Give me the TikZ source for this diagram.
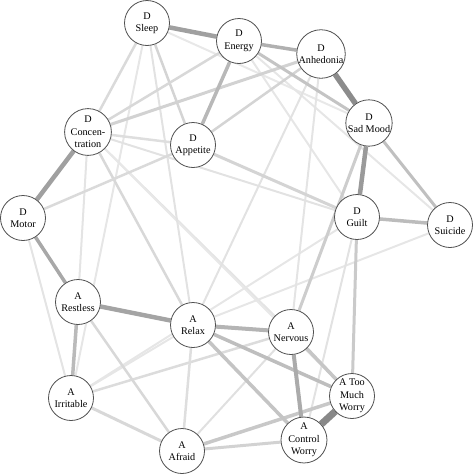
\documentclass[tikz,border=0pt]{standalone}
\usepackage{fontspec}
\setmainfont{Liberation Serif}
\usetikzlibrary{backgrounds}
\definecolor{nodeline}{HTML}{505050}
\tikzset{
  nd/.style={circle, draw=nodeline, line width=0.8pt, fill=white, minimum size=45pt, inner sep=0pt, align=center, font=\fontsize{10.2}{12.5}\selectfont},
  ew/.style n args={2}{line width=#1pt, draw={rgb,255:red,#2;green,#2;blue,#2}},
}
\begin{document}
\begin{tikzpicture}[x=1pt,y=-1pt]
\useasboundingbox (0,0) rectangle (474,474);
\node[nd] (sleep) at (147,23) {D\\Sleep};
\node[nd] (energy) at (239,41) {D\\Energy};
\node[nd] (anhed) at (321,54) {D\\Anhedonia};
\node[nd] (sad) at (369,123) {D\\Sad Mood};
\node[nd] (conc) at (88,132) {D\\Concen-\\tration};
\node[nd] (app) at (193,145) {D\\Appetite};
\node[nd] (motor) at (23,218) {D\\Motor};
\node[nd] (guilt) at (357,217) {D\\Guilt};
\node[nd] (suic) at (450,225) {D\\Suicide};
\node[nd] (restl) at (78,302) {A\\Restless};
\node[nd] (relax) at (193,325) {A\\Relax};
\node[nd] (nerv) at (291,332) {A\\Nervous};
\node[nd] (irrit) at (71,398) {A\\Irritable};
\node[nd] (afraid) at (182,451) {A\\Afraid};
\node[nd] (tmw) at (352,396) {A Too\\Much\\Worry};
\node[nd] (ctrl) at (304,440) {A\\Control\\Worry};
\coordinate (below) at (183,495);
\begin{pgfonlayer}{background}
% faint edges
\draw[ew={2}{232}] (sleep) -- (sad);
\draw[ew={2}{230}] (energy) -- (guilt);
\draw[ew={2}{230}] (energy) -- (suic);
\draw[ew={2}{228}] (conc) -- (nerv);
\draw[ew={2}{232}] (conc) -- (tmw);
\draw[ew={2}{230}] (guilt) -- (irrit);
\draw[ew={2}{230}] (suic) -- (relax);
\draw[ew={2}{230}] (irrit) -- (relax);
\draw[ew={2.5}{220}] (irrit) -- (nerv);
\draw[ew={2}{224}] (afraid) -- (nerv);
\draw[ew={2}{226}] (guilt) -- (ctrl);
\draw[ew={2}{228}] (anhed) -- (nerv);
\draw[ew={2}{226}] (anhed) -- (relax);
\draw[ew={2}{228}] (motor) -- (irrit);
\draw[ew={2}{226}] (sleep) -- (relax);
\draw[ew={2}{230}] (sleep) -- (irrit);
\draw[ew={2}{228}] (conc) -- (restl);
\draw[ew={2.5}{216}] (conc) -- (relax);
\draw[ew={2}{226}] (conc) -- (guilt);
\draw[ew={2.5}{222}] (conc) -- (app);
\draw[ew={3}{212}] (app) -- (guilt);
\draw[ew={2.5}{218}] (app) -- (motor);
\draw[ew={2.5}{212}] (app) -- (anhed);
\draw[ew={2.5}{212}] (sleep) -- (app);
\draw[ew={2.5}{218}] (sleep) -- (conc);
\draw[ew={2.5}{216}] (conc) -- (energy);
\draw[ew={3}{210}] (conc) -- (anhed);
\draw[ew={2.5}{222}] (relax) -- (afraid);
\draw[ew={2.5}{216}] (restl) -- (afraid);
\draw[ew={3}{216}] (irrit) -- (afraid);
\draw[ew={3}{205}] (sad) -- (nerv);
\draw[ew={3}{202}] (guilt) -- (tmw);
\draw[ew={3}{210}] (afraid) -- (ctrl);
\draw[ew={3.5}{200}] (afraid) -- (tmw);
% medium edges
\draw[ew={3.5}{198}] (nerv) -- (tmw);
\draw[ew={3.5}{196}] (relax) -- (ctrl);
\draw[ew={3.5}{190}] (relax) -- (tmw);
\draw[ew={3.5}{186}] (restl) -- (irrit);
\draw[ew={3}{196}] (energy) -- (sad);
\draw[ew={3}{192}] (sad) -- (suic);
\draw[ew={3.5}{188}] (guilt) -- (suic);
\draw[ew={3.5}{184}] (energy) -- (app);
\draw[ew={3.5}{176}] (energy) -- (anhed);
% strong edges
\draw[ew={4}{180}] (relax) -- (nerv);
\draw[ew={4}{171}] (nerv) -- (ctrl);
\draw[ew={4.5}{164}] (restl) -- (relax);
\draw[ew={3.5}{168}] (motor) -- (restl);
\draw[ew={4.5}{160}] (conc) -- (motor);
\draw[ew={4.5}{160}] (sleep) -- (energy);
\draw[ew={4.5}{154}] (sad) -- (guilt);
\draw[ew={5.5}{140}] (anhed) -- (sad);
\draw[ew={7}{136}] (tmw) -- (ctrl);
\draw[ew={5}{140}] (afraid) -- (below);
\end{pgfonlayer}
\end{tikzpicture}
\end{document}
